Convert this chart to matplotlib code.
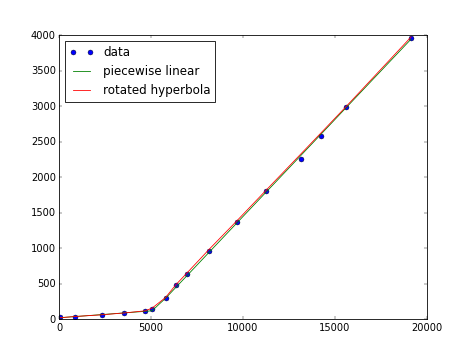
import matplotlib
matplotlib.use("Agg")
import matplotlib.pyplot as plt

x_data = [50, 853, 2303, 3531, 4671, 5052, 5790, 6333, 6953, 8148,
          9690, 11265, 13167, 14270, 15627, 19158]
y_data = [32, 42, 61, 85, 113, 151, 306, 483, 635, 969,
          1378, 1805, 2261, 2581, 2990, 3968]

# fitted curves evaluated at the data x values
y_piecewise = [26, 41, 69, 93, 115, 123, 300, 448, 617, 944,
               1365, 1795, 2314, 2615, 2986, 3950]
y_hyperbola = [25, 42, 66, 92, 122, 160, 310, 485, 655, 985,
               1395, 1822, 2335, 2633, 3002, 3980]

plt.style.use("classic")

fig = plt.figure(figsize=(8, 5.9916), dpi=59.25)
ax = fig.add_subplot(111)
ax.plot(x_data, y_data, "o", color="b", label="data")
ax.plot(x_data, y_piecewise, "-", color="g", label="piecewise linear")
ax.plot(x_data, y_hyperbola, "-", color="r", label="rotated hyperbola")
ax.set_xlim(0, 20000)
ax.set_ylim(0, 4000)
ax.legend(loc="upper left")

fig.savefig("out.png", dpi=59.25)
